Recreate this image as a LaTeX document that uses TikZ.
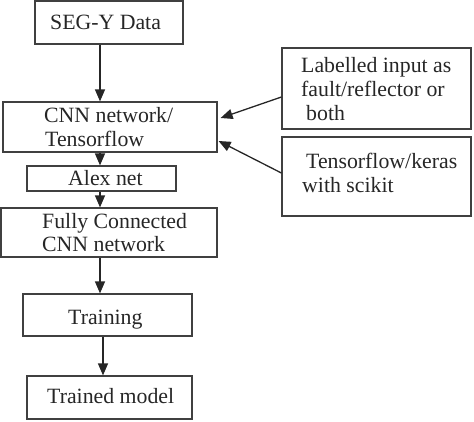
\documentclass[tikz,border=0pt]{standalone}
\usepackage{fontspec}
\setmainfont{Liberation Serif}
\usetikzlibrary{arrows.meta}
\begin{document}
\begin{tikzpicture}[x=1pt,y=-1pt,
  box/.style={draw=black!75,line width=1.2pt,inner sep=0pt},
  txt/.style={anchor=base west,inner sep=0pt,text=black!85,font=\fontsize{21.8}{23.5}\selectfont},
  arr/.style={draw=black!85,line width=1.3pt,-{Triangle[length=12pt,width=10pt]}}]
\useasboundingbox (0,0) rectangle (474,421);
% boxes
\node[box,minimum width=148pt,minimum height=43pt] (seg) at (109,22.5) {};
\node[box,minimum width=214pt,minimum height=50pt] (cnn) at (110,127) {};
\node[box,minimum width=149pt,minimum height=25pt] (alex) at (101.5,178.5) {};
\node[box,minimum width=216pt,minimum height=49pt] (fc) at (109,232.5) {};
\node[box,minimum width=169pt,minimum height=42pt] (train) at (107.5,315) {};
\node[box,minimum width=165pt,minimum height=43pt] (model) at (109.5,397.5) {};
\node[box,minimum width=189pt,minimum height=81pt] (lab) at (376.5,88.5) {};
\node[box,minimum width=189pt,minimum height=79pt] (tk) at (376.5,176.5) {};
% texts
\node[txt] (t1) at (50,29) {SEG-Y Data};
\node[txt] (t2) at (44,122) {CNN network/};
\node[txt] (t3) at (45,146) {Tensorflow};
\node[txt] (t4) at (68,185) {Alex net};
\node[txt] (t5) at (42,228) {Fully Connected};
\node[txt] (t6) at (42,251) {CNN network};
\node[txt] (t7) at (68,324) {Training};
\node[txt] (t8) at (47,403) {Trained model};
\node[txt] (t9) at (301,72) {Labelled input as};
\node[txt] (t10) at (301,96) {fault/reflector or};
\node[txt] (t11) at (306,120) {both};
\node[txt] (t12) at (306,168) {Tensorflow/keras};
\node[txt] (t13) at (302,192) {with scikit};
% arrows
\coordinate (xa) at (100,0);
\coordinate (xb) at (103,0);
\draw[arr] (seg.south -| xa) -- (cnn.north -| xa);
\draw[arr] (cnn.south -| xa) -- (alex.north -| xa);
\draw[arr] (alex.south -| xa) -- (fc.north -| xa);
\draw[arr] (fc.south -| xa) -- (train.north -| xa);
\draw[arr] (train.south -| xb) -- (model.north -| xb);
\draw[arr] ([yshift=-8.5pt]lab.west) -- ([xshift=3pt,yshift=9pt]cnn.east);
\draw[arr] ([yshift=3.5pt]tk.west) -- ([xshift=1pt,yshift=-14pt]cnn.east);
\end{tikzpicture}
\end{document}
